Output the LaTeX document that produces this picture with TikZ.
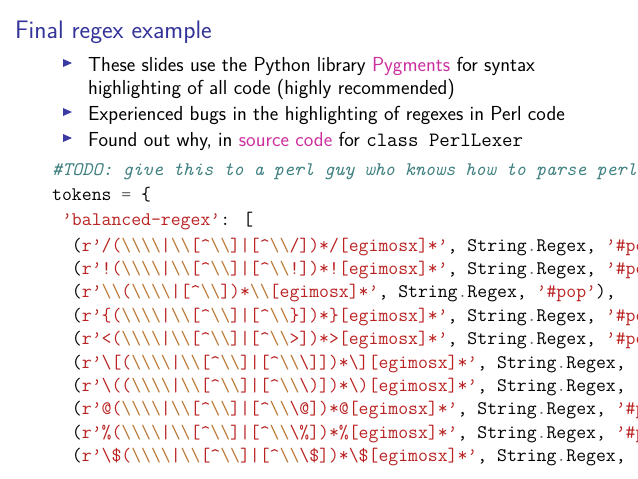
\documentclass[tikz,border=0pt]{standalone}
\usepackage{fontspec}
\usepackage{xcolor}
\definecolor{ttl}{HTML}{333399}
\definecolor{bulc}{HTML}{3B3BA3}
\definecolor{pink}{HTML}{CC2E9E}
\definecolor{str}{HTML}{BA2121}
\definecolor{esc}{HTML}{BB7733}
\definecolor{cmt}{HTML}{408080}
\definecolor{opc}{HTML}{666666}
\newcommand{\Bs}{\textbackslash}
\newcommand{\Dd}{{\color{esc}\Bs\Bs}}
\newcommand{\Ct}{\textasciicircum}
\newcommand{\Q}{’}
\newcommand{\Sr}{{\color{black}, String{\color{opc}.}Regex, }}
\begin{document}
\begin{tikzpicture}[x=1pt,y=-1pt,
  txt/.style={anchor=base west,inner sep=0pt,font=\fontsize{20.3}{22}\sffamily},
  code/.style={anchor=base west,inner sep=0pt,font=\fontsize{19.2}{22}\ttfamily},
  bul/.style={fill=bulc}]
\useasboundingbox (0,0) rectangle (638,479);
\clip (0,0) rectangle (638,479);
\node[anchor=base west,inner sep=0pt,font=\fontsize{25.3}{28}\sffamily,text=ttl] (title) at (15,38) {Final regex example};
\foreach \y in {71,120,146}{
  \fill[bul] (63,\y-12) -- (72,\y-8) -- (63,\y-4) -- cycle;}
\node[txt] (l1) at (88,71) {These slides use the Python library {\color{pink}Pygments} for syntax};
\node[txt] (l2) at (88,94) {highlighting of all code (highly recommended)};
\node[txt] (l3) at (88,120) {Experienced bugs in the highlighting of regexes in Perl code};
\node[txt] (l4) at (88,146) {Found out why, in {\color{pink}source code} for {\ttfamily class PerlLexer}};
\node[code,text=cmt,font=\fontsize{19.2}{22}\ttfamily\itshape] (c0) at (52,175) {\#TODO: give this to a perl guy who knows how to parse perl};
\node[code] (c1) at (52,200) {tokens {\color{opc}=} \{};
\node[code] (c2) at (52,225) {\ {\color{str}\Q balanced-regex\Q}: [};
\node[code] (r1) at (52,251) {\ \ ({\color{str}r\Q/(\Dd\Dd|\Dd[\Ct\Dd]|[\Ct\Dd/])*/[egimosx]*\Q\Sr\Q\#pop\Q}),};
\node[code] (r2) at (52,274.4) {\ \ ({\color{str}r\Q!(\Dd\Dd|\Dd[\Ct\Dd]|[\Ct\Dd!])*![egimosx]*\Q\Sr\Q\#pop\Q}),};
\node[code] (r3) at (52,297.8) {\ \ ({\color{str}r\Q\Dd(\Dd\Dd|[\Ct\Dd])*\Dd[egimosx]*\Q\Sr\Q\#pop\Q}),};
\node[code] (r4) at (52,321.2) {\ \ ({\color{str}r\Q\{(\Dd\Dd|\Dd[\Ct\Dd]|[\Ct\Dd\}])*\}[egimosx]*\Q\Sr\Q\#pop\Q}),};
\node[code] (r5) at (52,344.6) {\ \ ({\color{str}r\Q<(\Dd\Dd|\Dd[\Ct\Dd]|[\Ct\Dd>])*>[egimosx]*\Q\Sr\Q\#pop\Q}),};
\node[code] (r6) at (52,368) {\ \ ({\color{str}r\Q\Bs[(\Dd\Dd|\Dd[\Ct\Dd]|[\Ct\Dd\Bs]])*\Bs][egimosx]*\Q\Sr\Q\#pop\Q}),};
\node[code] (r7) at (52,391.4) {\ \ ({\color{str}r\Q\Bs((\Dd\Dd|\Dd[\Ct\Dd]|[\Ct\Dd\Bs)])*\Bs)[egimosx]*\Q\Sr\Q\#pop\Q}),};
\node[code] (r8) at (52,414.8) {\ \ ({\color{str}r\Q@(\Dd\Dd|\Dd[\Ct\Dd]|[\Ct\Dd\Bs@])*@[egimosx]*\Q\Sr\Q\#pop\Q}),};
\node[code] (r9) at (52,438.2) {\ \ ({\color{str}r\Q\%(\Dd\Dd|\Dd[\Ct\Dd]|[\Ct\Dd\Bs\%])*\%[egimosx]*\Q\Sr\Q\#pop\Q}),};
\node[code] (r10) at (52,461.6) {\ \ ({\color{str}r\Q\Bs\$(\Dd\Dd|\Dd[\Ct\Dd]|[\Ct\Dd\Bs\$])*\Bs\$[egimosx]*\Q\Sr\Q\#pop\Q}),};
\end{tikzpicture}
\end{document}
